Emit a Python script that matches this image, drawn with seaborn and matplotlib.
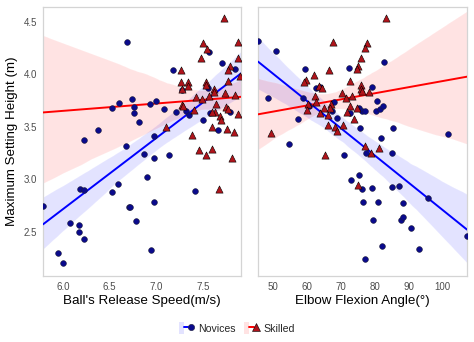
import numpy as np
import pandas as pd
import matplotlib
matplotlib.use("Agg")
import matplotlib.pyplot as plt
import seaborn as sns
from matplotlib.lines import Line2D
from matplotlib.patches import Patch
from matplotlib.collections import PolyCollection
from matplotlib.legend_handler import HandlerTuple

sns.set_theme(style="white")
plt.rcParams['font.family'] = ['Liberation Sans', 'DejaVu Sans']

groups = ["Novices", "Skilled"]

# Left panel: ball's release speed (m/s) vs maximum setting height (m)
speed_nov = [6.69, 6.22, 6.37, 6.52, 6.60, 6.74, 6.76, 6.76, 6.81, 6.68, 6.87, 6.93, 7.00, 6.97, 6.98, 7.08,
             7.14, 7.18, 7.21, 7.28, 7.32, 7.35, 7.50, 7.56, 7.55, 7.57, 7.66, 7.70, 7.79, 7.84,
             5.79, 5.95, 6.00, 6.08, 6.17, 6.17, 6.22, 6.18, 6.23, 6.53, 6.59, 6.71, 6.72, 6.78, 6.90,
             6.98, 6.94, 7.41]
height_speed_nov = [4.31, 3.37, 3.47, 3.68, 3.73, 3.76, 3.69, 3.63, 3.55, 3.32, 3.24, 3.72, 3.75, 3.20, 3.41, 3.67,
                    3.23, 4.04, 3.64, 3.85, 3.65, 3.61, 3.56, 4.21, 3.87, 3.63, 3.47, 4.11, 3.64, 4.05,
                    2.75, 2.30, 2.20, 2.58, 2.57, 2.50, 2.43, 2.91, 2.90, 2.88, 2.96, 2.74, 2.74, 2.60, 3.02,
                    2.78, 2.33, 2.89]
speed_sk = [7.72, 7.50, 7.54, 7.48, 7.87, 7.87, 7.79, 7.77, 7.26, 7.26, 7.34, 7.34, 7.27, 7.53, 7.53, 7.77,
            7.62, 7.62, 7.74, 7.90, 7.42, 7.49, 7.56, 7.84, 7.28, 7.29, 7.64, 7.75, 7.77, 7.63, 7.60, 7.87,
            7.40, 7.68, 7.69, 7.10, 7.60, 7.76, 7.83, 7.38, 7.60, 7.46, 7.53, 7.81, 7.67]
height_speed_sk = [4.54, 4.30, 4.24, 4.15, 4.31, 4.15, 4.08, 4.04, 4.04, 3.93, 3.93, 3.89, 3.86, 3.93, 3.90, 3.94,
                   3.86, 3.83, 3.82, 3.98, 3.78, 3.76, 3.79, 3.80, 3.71, 3.70, 3.72, 3.69, 3.67, 3.64, 3.64, 3.62,
                   3.66, 3.60, 3.56, 3.50, 3.50, 3.48, 3.45, 3.42, 3.29, 3.28, 3.23, 3.20, 2.91]

# Right panel: elbow flexion angle (deg) vs maximum setting height (m)
angle_nov = [45.7, 50.9, 59.3, 72.5, 82.7, 48.5, 58.7, 62.6, 63.9, 60.5, 57.4, 68.0, 67.4, 68.7, 72.6, 75.2,
             76.1, 77.2, 79.2, 80.6, 80.4, 81.5, 82.3, 75.6, 85.4, 101.5, 54.6, 81.8, 77.4, 84.9, 70.8,
             75.4, 73.0, 76.2, 79.1, 85.1, 87.0, 95.6, 76.4, 80.8, 88.3, 79.5, 87.8, 88.4, 90.7, 107.0,
             82.0, 92.9, 77.0]
height_angle_nov = [4.32, 4.22, 4.05, 4.06, 4.12, 3.77, 3.77, 3.87, 3.88, 3.70, 3.57, 3.74, 3.65, 3.58, 3.63, 3.68,
                    3.65, 3.65, 3.88, 3.75, 3.65, 3.67, 3.70, 3.49, 3.49, 3.43, 3.34, 3.39, 3.25, 3.25, 3.23,
                    3.04, 2.99, 2.91, 2.92, 2.93, 2.94, 2.82, 2.78, 2.78, 2.77, 2.61, 2.61, 2.64, 2.54, 2.46,
                    2.37, 2.34, 2.24]
angle_sk = [83.2, 67.6, 77.6, 77.1, 75.9, 75.0, 74.6, 66.5, 62.1, 59.7, 59.2, 72.8, 75.9, 75.8, 76.2, 63.6,
            64.3, 78.3, 70.2, 62.4, 71.6, 73.3, 62.7, 60.3, 67.2, 72.7, 64.9, 74.6, 66.7, 60.1, 71.7, 63.8,
            66.3, 73.9, 66.3, 70.5, 68.2, 68.8, 49.4, 77.2, 81.3, 78.9, 65.4, 75.1]
height_angle_sk = [4.54, 4.31, 4.30, 4.25, 4.15, 4.08, 4.05, 4.04, 3.99, 3.95, 3.93, 3.94, 3.90, 3.86, 3.84, 3.89,
                   3.87, 3.83, 3.82, 3.79, 3.77, 3.79, 3.74, 3.72, 3.72, 3.70, 3.68, 3.68, 3.68, 3.66, 3.64, 3.63,
                   3.61, 3.57, 3.52, 3.52, 3.50, 3.46, 3.44, 3.32, 3.30, 3.25, 3.23, 2.95]

y_ticks = [2.5, 3.0, 3.5, 4.0, 4.5]
speed_ticks = [6.0, 6.5, 7.0, 7.5]
angle_ticks = [50, 60, 70, 80, 90, 100]

point_colors = {"Novices": "#0a0a8c", "Skilled": "#b0141b"}
line_colors = {"Novices": "#0000ff", "Skilled": "#ff0000"}
markers = {"Novices": "o", "Skilled": "^"}
band_alpha = 0.11

df_speed = pd.DataFrame({
    "x": speed_nov + speed_sk,
    "y": height_speed_nov + height_speed_sk,
    "group": ["Novices"] * len(speed_nov) + ["Skilled"] * len(speed_sk),
})
df_angle = pd.DataFrame({
    "x": angle_nov + angle_sk,
    "y": height_angle_nov + height_angle_sk,
    "group": ["Novices"] * len(angle_nov) + ["Skilled"] * len(angle_sk),
})

fig = plt.figure(figsize=(4.74, 3.42), dpi=100)
W, H = 474, 342
ax1 = fig.add_axes([43 / W, 1 - 276 / H, 198 / W, 269 / H])
ax2 = fig.add_axes([258 / W, 1 - 276 / H, 209 / W, 269 / H])

panels = [
    (ax1, df_speed, (5.786, 7.907), speed_ticks, ["6.0", "6.5", "7.0", "7.5"], "Ball's Release Speed(m/s)"),
    (ax2, df_angle, (45.6, 107.1), angle_ticks, [str(t) for t in angle_ticks], "Elbow Flexion Angle(°)"),
]

for ax, df, xlim, xt, xtl, xlabel in panels:
    ax.set_xlim(*xlim)
    ax.set_ylim(2.08, 4.64)
    for g in groups:
        sub = df[df["group"] == g]
        sns.regplot(data=sub, x="x", y="y", ax=ax, scatter=False, truncate=False,
                    color=line_colors[g], ci=95, n_boot=1000, seed=1,
                    line_kws={"lw": 1.4, "zorder": 3})
    for coll in ax.collections:
        if isinstance(coll, PolyCollection):
            coll.set_alpha(band_alpha)
    for g in groups:
        sub = df[df["group"] == g]
        sns.scatterplot(data=sub, x="x", y="y", ax=ax, marker=markers[g],
                        color=point_colors[g], s=17 if g == "Novices" else 27,
                        edgecolor="#1a1a3a" if g == "Novices" else "black",
                        linewidth=0.4, zorder=4, legend=False, clip_on=True)
    ax.set_xlim(*xlim)
    ax.set_ylim(2.08, 4.64)
    ax.set_xticks(xt)
    ax.set_xticklabels(xtl)
    ax.set_xlabel(xlabel, fontsize=9.6, color="black", labelpad=2)
    ax.set_ylabel("")
    for sp in ax.spines.values():
        sp.set_color("#d4d4d4")
        sp.set_linewidth(0.9)
    ax.tick_params(axis="both", which="both", length=2.5, width=0.6, color="#b3b3b3",
                   labelsize=7, labelcolor="#4d4d4d", pad=2, direction="out")
    ax.grid(False)
    ax.set_facecolor("white")

ax1.set_yticks(y_ticks)
ax1.set_yticklabels(["2.5", "3.0", "3.5", "4.0", "4.5"])
ax1.set_ylabel("Maximum Setting Height (m)", fontsize=9.6, color="black", labelpad=4)
ax2.set_yticks(y_ticks)
ax2.tick_params(axis="y", left=False, labelleft=False)

handles = []
for g in groups:
    bg = Patch(facecolor=line_colors[g], alpha=band_alpha, edgecolor="none")
    ln = Line2D([], [], color=line_colors[g], lw=1.4)
    mk = Line2D([], [], color=point_colors[g], marker=markers[g], linestyle="none",
                markersize=4.5 if g == "Novices" else 5.5,
                markeredgecolor="#1a1a3a" if g == "Novices" else "black", markeredgewidth=0.4)
    handles.append((bg, ln, mk))

fig.legend(handles, groups, handler_map={tuple: HandlerTuple(ndivide=None, pad=0)},
           loc="center", bbox_to_anchor=(0.5, 1 - 328 / H), ncol=2, frameon=False,
           fontsize=7.6, handlelength=1.35, handleheight=1.35, columnspacing=0.8, handletextpad=0.5)

fig.savefig("out.png", dpi=100, facecolor="white")
